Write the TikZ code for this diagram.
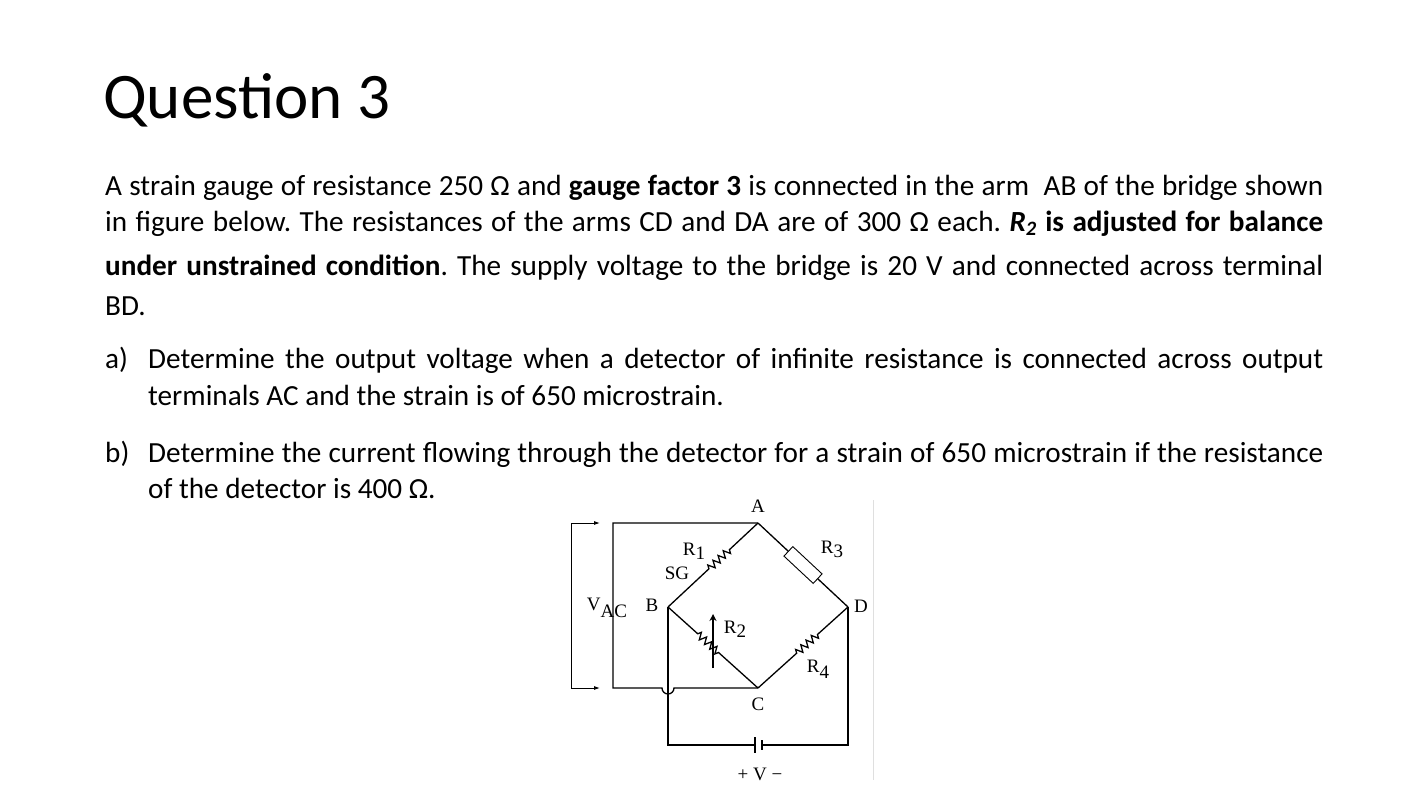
\documentclass[tikz,border=0pt]{standalone}
\usepackage{fontspec}
\setmainfont{Carlito}
\newfontfamily\ckt{Liberation Serif}
\usetikzlibrary{decorations.pathmorphing,arrows.meta,calc}
\frenchspacing
\begin{document}
\begin{tikzpicture}[x=1pt,y=-1pt,
  txt/.style={anchor=base west,inner sep=0,font=\fontsize{29.2}{34}\selectfont},
  jline/.style={txt,text width=1218pt,align=justify},
  wire/.style={line width=1.3pt},
  zz/.style 2 args={wire,decorate,decoration={zigzag,amplitude=3.5pt,segment length=7pt,pre length=#1,post length=#2}},
  lab/.style={font=\ckt\fontsize{19}{20}\selectfont,inner sep=0}]
\useasboundingbox (0,0) rectangle (1426,790);
\node[txt,font=\fontsize{65}{70}\selectfont] (title) at (103,118) {Question 3};
\node[jline] (l1) at (105,195) {\parfillskip=0pt A strain gauge of resistance 250 Ω and \textbf{gauge factor 3} is connected in the arm\ \ AB of the bridge shown\par};
\node[jline] (l2) at (105,231) {\parfillskip=0pt in figure below. The resistances of the arms CD and DA are of 300 Ω each. \textbf{\textit{R\textsubscript{2}} is adjusted for balance}\par};
\node[jline] (l3) at (105,275) {\parfillskip=0pt \textbf{under unstrained condition}. The supply voltage to the bridge is 20 V and connected across terminal\par};
\node[txt] (l4) at (105,315) {BD.};
\node[txt] (a1) at (105,368) {a)};
\node[txt,text width=1175pt,align=justify] (a2) at (148,368) {\parfillskip=0pt Determine the output voltage when a detector of infinite resistance is connected across output\par};
\node[txt] (a3) at (148,405) {terminals AC and the strain is of 650 microstrain.};
\node[txt] (b1) at (105,462) {b)};
\node[txt,text width=1175pt,align=justify] (b2) at (148,462) {\parfillskip=0pt Determine the current flowing through the detector for a strain of 650 microstrain if the resistance\par};
\node[txt] (b3) at (148,498) {of the detector is 400 Ω.};
% circuit
\coordinate (A) at (758,523);
\coordinate (B) at (668,607);
\coordinate (C) at (758,688);
\coordinate (D) at (848,607);
\coordinate (TL) at (613,523);
\coordinate (BL) at (613,688);
\coordinate (BB) at (668,745);
\coordinate (DB) at (848,745);
\draw[gray!25,line width=0.8pt] (873,500) -- (873,780);
\draw[wire] (A) -- (TL) -- (BL) -- (662,688) arc[start angle=180,end angle=0,radius=6] -- (C);
\draw[zz={56pt}{36pt}] (B) -- (A);
\draw[wire] (A) -- (D);
\node[draw,fill=white,line width=0.9pt,minimum width=40pt,minimum height=13pt,rotate=-43,inner sep=0] (R3) at ($(A)!0.5!(D)$) {};
\draw[zz={40pt}{52pt}] (B) -- (C);
\draw[zz={52pt}{40pt}] (C) -- (D);
\draw[line width=2.2pt,-{Stealth[length=7pt,width=7pt]}] (713,668) -- (713,614);
\draw[wire] (B) -- (BB) -- (755,745);
\draw[wire] (762,745) -- (DB) -- (D);
\draw[wire] (755,737) -- (755,753);
\draw[wire] (762,740) -- (762,750);
\draw[line width=0.9pt,-{Latex[length=6pt,width=4pt]}] (571,523) -- (600,523);
\draw[line width=0.9pt,-{Latex[length=6pt,width=4pt]}] (571,523) -- (571,688) -- (600,688);
\node[lab] (lA) at (758,506) {A};
\node[lab] (lB) at (652,605) {B};
\node[lab] (lC) at (758,704) {C};
\node[lab] (lD) at (861,606) {D};
\node[lab] (lR1) at (694,551) {R\raisebox{-4pt}{1}};
\node[lab] (lSG) at (677,573) {SG};
\node[lab] (lR3) at (832,549) {R\raisebox{-4pt}{3}};
\node[lab] (lR2) at (735,629) {R\raisebox{-4pt}{2}};
\node[lab] (lR4) at (818,669) {R\raisebox{-6pt}{4}};
\node[lab] (lV) at (607,608) {V\raisebox{-7pt}{AC}};
\node[lab] (lbat) at (760,774) {+ V −};
\end{tikzpicture}
\end{document}
